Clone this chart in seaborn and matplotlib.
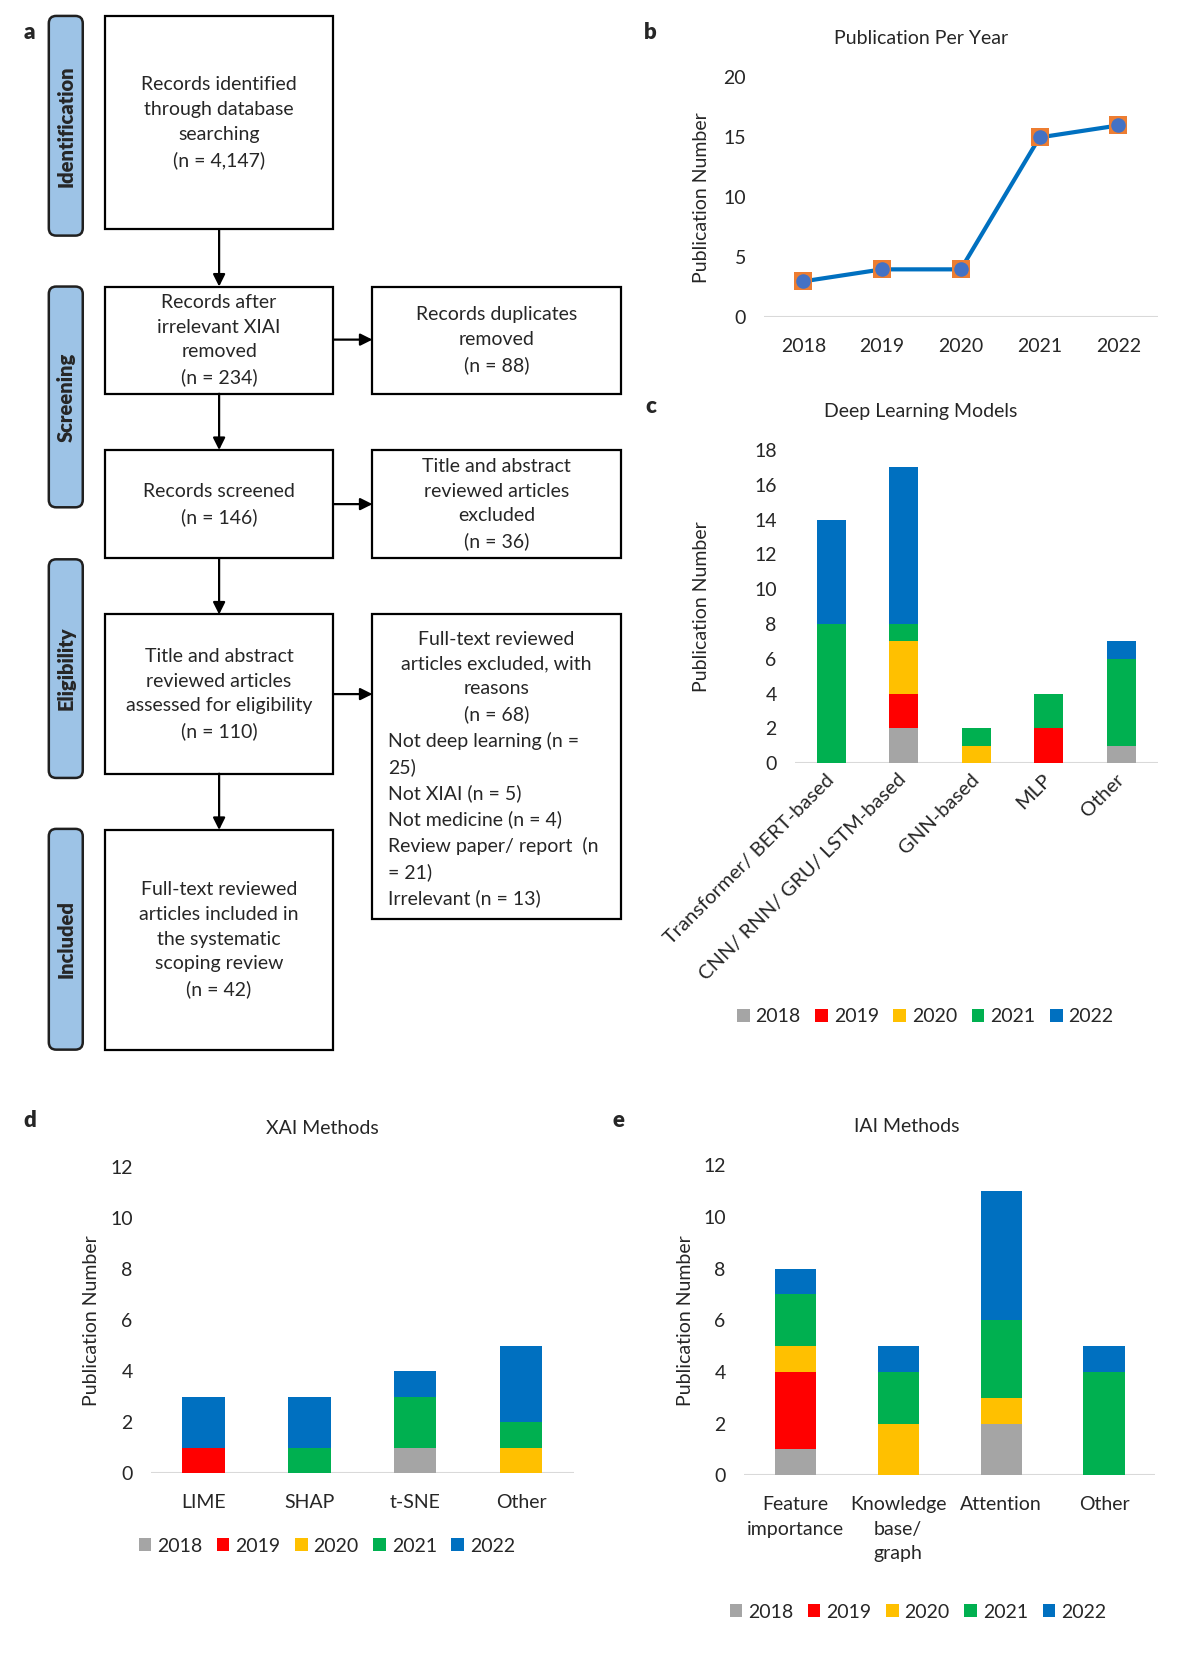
import numpy as np
import pandas as pd
import matplotlib
matplotlib.use("Agg")
import matplotlib.pyplot as plt
from matplotlib.patches import Rectangle, FancyBboxPatch, Patch
import seaborn as sns

# ---- data ----
years = ["2018", "2019", "2020", "2021", "2022"]
pub_counts = [3, 4, 4, 15, 16]

dl_models = ["Transformer/ BERT-based", "CNN/ RNN/ GRU/ LSTM-based", "GNN-based", "MLP", "Other"]
dl_2018 = [0, 2, 0, 0, 1]
dl_2019 = [0, 2, 0, 2, 0]
dl_2020 = [0, 3, 1, 0, 0]
dl_2021 = [8, 1, 1, 2, 5]
dl_2022 = [6, 9, 0, 0, 1]

xai_methods = ["LIME", "SHAP", "t-SNE", "Other"]
xai_2018 = [0, 0, 1, 0]
xai_2019 = [1, 0, 0, 0]
xai_2020 = [0, 0, 0, 1]
xai_2021 = [0, 1, 2, 1]
xai_2022 = [2, 2, 1, 3]

iai_methods = ["Feature\nimportance", "Knowledge\nbase/\ngraph", "Attention", "Other"]
iai_2018 = [1, 0, 2, 0]
iai_2019 = [3, 0, 0, 0]
iai_2020 = [1, 2, 1, 0]
iai_2021 = [2, 2, 3, 4]
iai_2022 = [1, 1, 5, 1]

stages = ["Identification", "Screening", "Eligibility", "Included"]
main_boxes = [
    "Records identified\nthrough database\nsearching\n(n = 4,147)",
    "Records after\nirrelevant XIAI\nremoved\n(n = 234)",
    "Records screened\n(n = 146)",
    "Title and abstract\nreviewed articles\nassessed for eligibility\n(n = 110)",
    "Full-text reviewed\narticles included in\nthe systematic\nscoping review\n(n = 42)",
]
side_boxes = [
    "Records duplicates\nremoved\n(n = 88)",
    "Title and abstract\nreviewed articles\nexcluded\n(n = 36)",
    "Full-text reviewed\narticles excluded, with\nreasons\n(n = 68)",
]
exclusion_reasons = "Not deep learning (n =\n25)\nNot XIAI (n = 5)\nNot medicine (n = 4)\nReview paper/ report  (n\n= 21)\nIrrelevant (n = 13)"

year_colors = ["#A5A5A5", "#FF0000", "#FFC000", "#00B050", "#0070C0"]

# ---- style ----
sns.set_theme(style="white")
plt.rcParams["font.family"] = ["Lato", "DejaVu Sans"]
FS = 14
LS = 1.55

W, H = 1130.0, 1566.0


def rect(x0, y0, x1, y1):
    return [x0 / W, 1 - y1 / H, (x1 - x0) / W, (y1 - y0) / H]


fig = plt.figure(figsize=(11.99, 16.62), dpi=100)

# ---- panel a : flow diagram ----
fa = fig.add_axes([0, 0, 1, 1])
fa.set_xlim(0, W)
fa.set_ylim(H, 0)
fa.axis("off")

stage_y = [(15, 222), (270, 478), (527, 733), (781, 989)]
for name, (y0, y1) in zip(stages, stage_y):
    fa.add_patch(FancyBboxPatch((46, y0), 32, y1 - y0, boxstyle="round,pad=0,rounding_size=7",
                                facecolor="#9DC3E6", edgecolor="#202020", lw=1.8))
    fa.text(62, (y0 + y1) / 2, name, rotation=90, ha="center", va="center",
            fontsize=14.5, fontweight="heavy")

main_y = [(15, 216), (270, 371), (424, 526), (579, 729), (782, 989)]
for txt, (y0, y1) in zip(main_boxes, main_y):
    fa.add_patch(Rectangle((99, y0), 215, y1 - y0, facecolor="white", edgecolor="black", lw=1.6))
    fa.text(206.5, (y0 + y1) / 2, txt, ha="center", va="center", fontsize=FS, linespacing=LS)

side_y = [(270, 371), (424, 526), (579, 866)]
for i, (y0, y1) in enumerate(side_y):
    fa.add_patch(Rectangle((351, y0), 234, y1 - y0, facecolor="white", edgecolor="black", lw=1.6))
    if i < 2:
        fa.text(468, (y0 + y1) / 2, side_boxes[i], ha="center", va="center", fontsize=FS, linespacing=LS)
fa.text(468, 638, side_boxes[2], ha="center", va="center", fontsize=FS, linespacing=LS)
fa.text(366, 772, exclusion_reasons, ha="left", va="center", fontsize=FS, linespacing=LS)

arrow = dict(arrowstyle="-|>", color="black", lw=1.6, mutation_scale=18, shrinkA=0, shrinkB=0)
for (a0, a1), (b0, b1) in zip(main_y[:-1], main_y[1:]):
    fa.annotate("", xy=(206.5, b0), xytext=(206.5, a1), arrowprops=arrow)
for yy in [320, 475, 654]:
    fa.annotate("", xy=(351, yy), xytext=(314, yy), arrowprops=arrow)

for lab, (lx, ly) in zip("abcde", [(28, 31), (613, 31), (613, 383), (28, 1056), (583, 1056)]):
    fa.text(lx, ly, lab, ha="center", va="center", fontsize=16, fontweight="heavy")


def style_axis(ax, ymax, ystep, title, title_x, ylabel_off, width_px):
    ax.set_facecolor("none")
    sns.despine(ax=ax, left=True, bottom=True)
    ax.axhline(0, color="#D9D9D9", lw=1.5, zorder=0.5)
    ax.set_ylim(0, ymax)
    ax.set_yticks(np.arange(0, ymax + 0.1, ystep))
    ax.tick_params(axis="both", length=0, labelsize=FS)
    ax.tick_params(axis="y", pad=13)
    ax.tick_params(axis="x", pad=15)
    ax.set_xlabel("")
    ax.set_ylabel("Publication Number", fontsize=FS, va="center")
    ax.yaxis.set_label_coords(-ylabel_off / width_px, 0.5)
    ax.set_title(title, fontsize=FS, pad=24)
    ax.title.set_x(title_x)
    ax.grid(False)


def stacked(ax, cats, layers):
    df = pd.DataFrame(dict(zip(years, layers)), index=cats)
    cum = df.cumsum(axis=1)
    for yr, col in reversed(list(zip(years, year_colors))):
        d = pd.DataFrame({"cat": cats, "val": cum[yr].values})
        sns.barplot(data=d, x="cat", y="val", order=cats, color=col, width=0.4,
                    saturation=1, errorbar=None, linewidth=0, ax=ax)


def legend(ax, cx, cy):
    handles = [Patch(facecolor=c, edgecolor="none") for c in year_colors]
    ax.legend(handles, years, ncol=5, frameon=False, loc="center",
              bbox_to_anchor=(cx / W, 1 - cy / H), bbox_transform=fig.transFigure,
              fontsize=FS, handlelength=0.65, handleheight=0.65, handletextpad=0.3,
              columnspacing=0.75)


# ---- panel b : line ----
axb = fig.add_axes(rect(720, 73, 1091, 299))
dfb = pd.DataFrame({"year": years, "n": pub_counts})
sns.lineplot(data=dfb, x="year", y="n", color="#0070C0", lw=3, sort=False, ax=axb)
sns.scatterplot(data=dfb, x="year", y="n", marker="s", s=150, color="#ED7D31", linewidth=0, ax=axb, zorder=3)
sns.scatterplot(data=dfb, x="year", y="n", marker="o", s=110, color="#4472C4", linewidth=0, ax=axb, zorder=4)
axb.set_xlim(-0.5, 4.5)
style_axis(axb, 20, 5, "Publication Per Year", (868 - 720) / 371, 59, 371)

# ---- panel c ----
axc = fig.add_axes(rect(749, 424, 1091, 719))
stacked(axc, dl_models, [dl_2018, dl_2019, dl_2020, dl_2021, dl_2022])
style_axis(axc, 18, 2, "Deep Learning Models", (868 - 749) / 342, 88, 342)
axc.set_xticks(range(len(dl_models)))
axc.set_xticklabels(dl_models, rotation=45, ha="right", va="center", rotation_mode="anchor")
axc.tick_params(axis="x", pad=10, labelsize=14.5)
legend(axc, 872, 958)

# ---- panel d ----
axd = fig.add_axes(rect(142, 1100, 541, 1388))
stacked(axd, xai_methods, [xai_2018, xai_2019, xai_2020, xai_2021, xai_2022])
style_axis(axd, 12, 2, "XAI Methods", (304 - 142) / 399, 56, 399)
legend(axd, 308, 1457)

# ---- panel e ----
axe = fig.add_axes(rect(701, 1098, 1089, 1390))
stacked(axe, iai_methods, [iai_2018, iai_2019, iai_2020, iai_2021, iai_2022])
style_axis(axe, 12, 2, "IAI Methods", (855 - 701) / 388, 55, 388)
for t in axe.get_xticklabels():
    t.set_linespacing(LS)
legend(axe, 865, 1519)

fig.savefig("out.png", dpi=100)
